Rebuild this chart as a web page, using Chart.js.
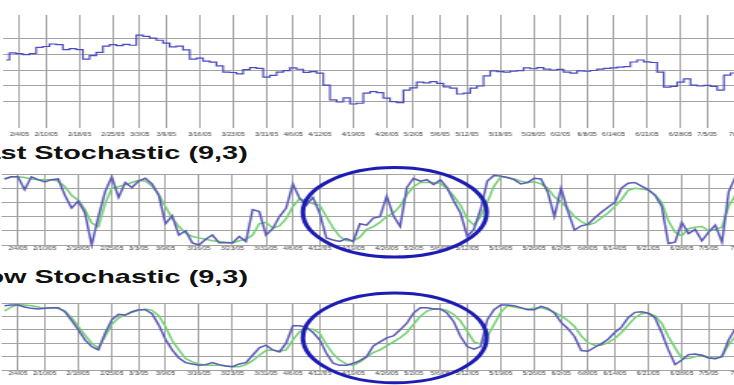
<!DOCTYPE html>
<html>
<head>
<meta charset="utf-8">
<script src="https://cdn.jsdelivr.net/npm/chart.js@4.4.0/dist/chart.umd.min.js"></script>
<style>
  html, body { margin: 0; padding: 0; background: #fff; }
  body { width: 734px; height: 385px; overflow: hidden; position: relative; font-family: "Liberation Sans", Arial, sans-serif; }
  .panel { position: absolute; left: 0; width: 500px; transform: scaleX(1.52); transform-origin: 0 0; }
  .title { position: absolute; right: 486px; font-weight: bold; font-size: 19px; line-height: 1; white-space: nowrap; color: #111; transform: scaleX(1.52); transform-origin: 100% 50%; }
</style>
</head>
<body>
<div class="panel" style="top:0;height:138px"><canvas id="priceChart"></canvas></div>
<div class="title" style="top:143px">Fast Stochastic (9,3)</div>
<div class="panel" style="top:160px;height:102px"><canvas id="fastChart"></canvas></div>
<div class="title" style="top:267px">Slow Stochastic (9,3)</div>
<div class="panel" style="top:290px;height:95px"><canvas id="slowChart"></canvas></div>
<script>
// one value per trading day
const closePrice = [
  41.64, 42.09, 42.05, 41.98, 42.04, 42.45, 42.50, 42.66, 42.62, 42.30,
  42.36, 42.30, 41.70, 41.92, 42.12, 42.53, 42.62, 42.56, 42.64, 42.58,
  43.23, 43.15, 43.04, 42.90, 42.72, 42.47, 42.52, 42.28, 41.70, 41.76,
  41.57, 41.50, 41.26, 40.87, 40.84, 40.75, 41.02, 41.15, 41.10, 40.55,
  40.66, 40.87, 40.96, 41.13, 41.05, 40.85, 40.90, 40.80, 40.04, 39.09,
  38.96, 39.22, 38.83, 38.88, 39.53, 39.62, 39.56, 39.21, 38.98, 38.92,
  39.72, 39.86, 40.23, 40.18, 40.26, 40.15, 39.92, 39.85, 39.47, 39.52,
  39.85, 39.98, 40.62, 40.94, 40.90, 40.86, 40.92, 40.96, 41.13, 41.08,
  41.15, 41.06, 41.00, 41.04, 40.87, 40.80, 40.95, 40.92, 40.97, 41.06,
  41.10, 41.13, 41.19, 41.22, 41.51, 41.64, 41.52, 41.48, 40.87, 39.91,
  39.95, 40.23, 40.43, 40.04, 39.98, 40.02, 39.96, 39.72, 40.68, 40.81,
  40.87, 40.75, 40.81
];

const fastK = [
  93, 96, 96, 78, 96, 92, 89, 92, 93, 70,
  52, 62, 45, 0, 40, 75, 96, 67, 88, 81,
  90, 94, 86, 70, 30, 41, 14, 20, 3, 0,
  8, 14, 3, 3, 3, 12, 5, 50, 47, 14,
  23, 40, 52, 86, 66, 56, 67, 45, 10, 7,
  5, 9, 5, 30, 28, 38, 40, 69, 41, 26,
  81, 94, 90, 92, 85, 92, 81, 62, 45, 12,
  22, 50, 90, 98, 97, 95, 92, 86, 88, 94,
  93, 75, 40, 80, 48, 21, 27, 29, 38, 46,
  53, 60, 80, 87, 88, 83, 78, 70, 55, 2,
  4, 32, 16, 22, 6, 18, 28, 4, 75, 96,
  94, 95, 92
];

const fastD = [
  93, 96, 96, 95, 93, 92, 92, 92, 90, 82,
  70, 63, 50, 31, 26, 58, 80, 82, 85, 88,
  91, 90, 83, 71, 54, 38, 26, 17, 12, 10,
  8, 6, 5, 4, 3, 6, 8, 14, 30, 32,
  24, 27, 37, 54, 65, 62, 58, 56, 40, 24,
  12, 6, 6, 11, 22, 26, 32, 40, 45, 55,
  71, 82, 88, 88, 88, 87, 79, 69, 56, 37,
  28, 40, 60, 83, 96, 95, 93, 90, 88, 89,
  86, 80, 68, 61, 51, 40, 33, 28, 31, 38,
  45, 54, 64, 77, 80, 79, 77, 71, 60, 34,
  18, 13, 23, 25, 26, 20, 22, 25, 55, 70,
  85, 92, 94
];

const slowK = [
  96, 97, 97, 94, 92, 91, 92, 93, 93, 87,
  74, 60, 45, 35, 30, 55, 75, 83, 82, 87,
  90, 90, 84, 67, 46, 30, 18, 11, 9, 7,
  8, 11, 8, 6, 5, 9, 11, 22, 33, 37,
  30, 27, 40, 66, 66, 64, 56, 45, 25, 10,
  7, 7, 10, 14, 20, 36, 42, 48, 51, 60,
  70, 85, 93, 93, 91, 91, 85, 72, 50, 35,
  31, 35, 75, 90, 97, 97, 96, 93, 90, 90,
  95, 92, 85, 71, 62, 50, 29, 28, 34, 39,
  46, 56, 64, 78, 86, 87, 85, 78, 56, 30,
  8, 15, 23, 24, 22, 18, 17, 20, 45, 62,
  80, 90, 94
];

const slowD = [
  88, 94, 98, 97, 96, 94, 92, 93, 92, 88,
  78, 65, 52, 40, 33, 50, 68, 78, 82, 86,
  89, 91, 89, 81, 65, 44, 30, 17, 12, 9,
  7, 7, 7, 6, 5, 5, 8, 14, 22, 29,
  30, 28, 30, 45, 57, 61, 61, 55, 38, 24,
  15, 9, 7, 12, 19, 26, 30, 36, 42, 48,
  56, 68, 80, 88, 91, 91, 89, 83, 73, 58,
  42, 39, 50, 68, 86, 96, 94, 92, 91, 92,
  93, 90, 86, 81, 74, 65, 51, 41, 37, 37,
  41, 47, 56, 67, 78, 84, 85, 81, 70, 50,
  33, 17, 17, 20, 22, 19, 17, 21, 38, 50,
  65, 80, 88
];

// days that carry a date label and a vertical grid line
const gridDays = [2, 6, 11, 16, 20, 24, 29, 34, 39, 43, 47, 52, 57, 61, 65, 69, 74, 79, 83, 87, 91, 96, 101, 105, 110];
const gridDates = ['2/4/05', '2/10/05', '2/18/05', '2/25/05', '3/3/05', '3/9/05', '3/16/05', '3/23/05', '3/31/05',
  '4/6/05', '4/12/05', '4/19/05', '4/26/05', '5/2/05', '5/6/05', '5/12/05', '5/19/05', '5/26/05', '6/2/05',
  '6/8/05', '6/14/05', '6/21/05', '6/28/05', '7/5/05', '7/12/05'];

// highlighted regions: centre day / half-width in days, centre value / half-height in value units
const fastCircle = { day: 58.2, days: 13.7, value: 46, range: 63 };
const slowCircle = { day: 58.2, days: 13.7, value: 48, range: 67 };

const GRID_COLOR = '#a3a3a3';
const PRICE_COLOR = '#4b4bc2';
const K_COLOR = '#5a5ab8';
const D_COLOR = '#72d072';
const TICK_FONT = { family: "'Liberation Sans', Arial, sans-serif", size: 4.6 };

const dayIndex = closePrice.map((_, i) => i);

const ellipsePlugin = {
    id: 'ellipse',
    afterDraw(chart, args, opts) {
        const spec = opts.spec;
        if (!spec) return;
        const xs = chart.scales.x;
        const ys = chart.scales.y;
        const cx = xs.getPixelForValue(spec.day);
        const rx = Math.abs(xs.getPixelForValue(spec.day + spec.days) - cx);
        const cy = ys.getPixelForValue(spec.value);
        const ry = Math.abs(ys.getPixelForValue(spec.value + spec.range) - cy);
        const ctx = chart.ctx;
        ctx.save();
        ctx.strokeStyle = '#1c1cb4';
        ctx.lineWidth = 3;
        ctx.beginPath();
        ctx.ellipse(cx, cy, rx, ry, 0, 0, Math.PI * 2);
        ctx.stroke();
        ctx.restore();
    }
};

function xScale(tickPad) {
    return {
        type: 'category',
        offset: true,
        border: { display: false },
        grid: {
            offset: false,
            drawTicks: false,
            lineWidth: 1,
            color: ctx => gridDays.includes(ctx.index) ? GRID_COLOR : 'rgba(0,0,0,0)'
        },
        ticks: {
            autoSkip: false,
            maxRotation: 0,
            minRotation: 0,
            padding: tickPad,
            font: TICK_FONT,
            color: '#3a3a3a',
            callback: (value, index) => {
                const k = gridDays.indexOf(index);
                return k >= 0 ? gridDates[k] : '';
            }
        },
        afterFit: axis => { axis.height = 10; }
    };
}

function yScale(min, max, step) {
    return {
        min: min,
        max: max,
        border: { display: false },
        grid: { drawTicks: false, color: GRID_COLOR, lineWidth: 1 },
        ticks: { display: false, stepSize: step },
        afterBuildTicks: axis => {
            axis.ticks = axis.ticks.filter(t => Math.abs(t.value / step - Math.round(t.value / step)) < 1e-6);
        },
        afterFit: axis => { axis.width = 0; }
    };
}

function options(padTop, padBottom, tickPad, y, circle) {
    return {
        responsive: true,
        maintainAspectRatio: false,
        animation: false,
        events: [],
        layout: { padding: { top: padTop, bottom: padBottom, left: 0, right: 0 } },
        plugins: {
            legend: { display: false },
            tooltip: { enabled: false },
            ellipse: { spec: circle }
        },
        scales: { x: xScale(tickPad), y: y }
    };
}

function stochLine(values, color) {
    return { data: values, borderColor: color, borderWidth: 1.5, pointRadius: 0, tension: 0, clip: 4 };
}

new Chart(document.getElementById('priceChart'), {
    type: 'line',
    data: {
        labels: dayIndex,
        datasets: [{ data: closePrice, borderColor: PRICE_COLOR, borderWidth: 1.2, stepped: 'middle', pointRadius: 0 }]
    },
    options: options(15, 0, 4, yScale(37.30, 44.51, 1), null),
    plugins: [ellipsePlugin]
});

new Chart(document.getElementById('fastChart'), {
    type: 'line',
    data: {
        labels: dayIndex,
        datasets: [stochLine(fastK, K_COLOR), stochLine(fastD, D_COLOR)]
    },
    options: options(14, 7, 1, yScale(0, 100, 20), fastCircle),
    plugins: [ellipsePlugin]
});

new Chart(document.getElementById('slowChart'), {
    type: 'line',
    data: {
        labels: dayIndex,
        datasets: [stochLine(slowK, K_COLOR), stochLine(slowD, D_COLOR)]
    },
    options: options(13, 5, 1, yScale(0, 100, 20), slowCircle),
    plugins: [ellipsePlugin]
});
</script>
</body>
</html>
